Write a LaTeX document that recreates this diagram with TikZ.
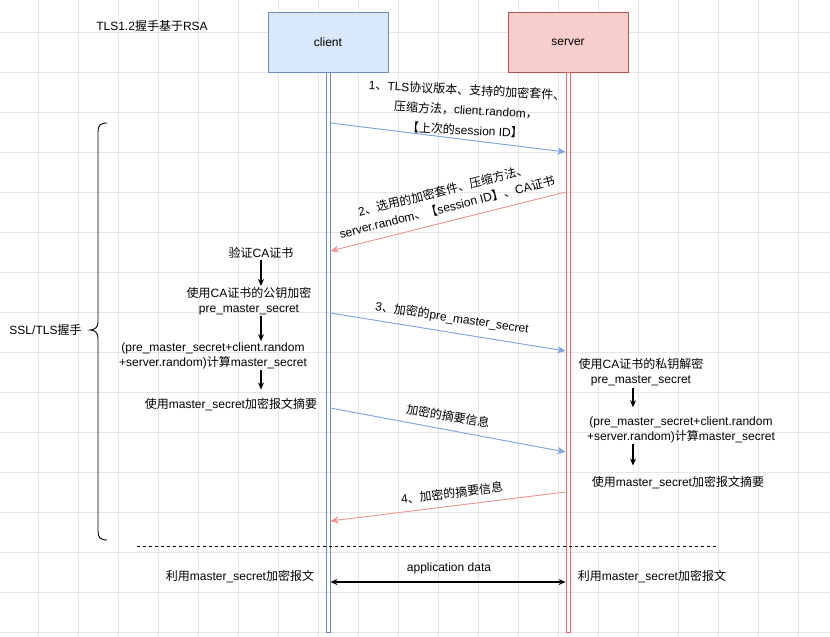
\documentclass[tikz,border=0pt]{standalone}
\usepackage{fontspec}
\setmainfont{Liberation Sans}
\newfontfamily\cjkfont{Noto Sans CJK SC}
\usetikzlibrary{arrows.meta, positioning}
\definecolor{gridGray}{RGB}{230, 230, 230}
\definecolor{clientFill}{RGB}{218, 232, 252}
\definecolor{clientLine}{RGB}{108, 142, 191}
\definecolor{serverFill}{RGB}{248, 206, 204}
\definecolor{serverLine}{RGB}{184, 84, 80}
\definecolor{serverLife}{RGB}{234, 107, 102}
\definecolor{toServer}{RGB}{126, 166, 224}
\definecolor{toClient}{RGB}{241, 150, 150}

% Chinese characters in Noto Sans CJK, the rest in Liberation Sans
\XeTeXinterchartokenstate=1
\newXeTeXintercharclass\cjkclass
\newcount\cjkcode
\def\setcjkrange#1#2{\cjkcode=#1 \loop\XeTeXcharclass\cjkcode=\cjkclass \advance\cjkcode by 1 \ifnum\cjkcode<#2 \repeat}
\setcjkrange{"3000}{"3040}
\setcjkrange{"4E00}{"A000}
\setcjkrange{"FF00}{"FFF0}
\XeTeXinterchartoks 0 \cjkclass = {\cjkfont}
\XeTeXinterchartoks 4095 \cjkclass = {\cjkfont}
\XeTeXinterchartoks \cjkclass 0 = {\rmfamily}
\XeTeXinterchartoks \cjkclass 4095 = {\rmfamily}

\begin{document}
\begin{tikzpicture}[
    x=1pt, y=-1pt,
    every node/.style={font=\fontsize{12}{15}\selectfont, inner sep=1pt},
    gridline/.style={draw=gridGray, line width=0.6pt},
    actor/.style={rectangle, minimum width=120, minimum height=60, line width=0.9pt},
    clientbox/.style={actor, draw=clientLine, fill=clientFill},
    serverbox/.style={actor, draw=serverLine, fill=serverFill},
    life/.style={rectangle, minimum width=4, minimum height=560, inner sep=0pt, line width=0.8pt},
    msgserver/.style={draw=toServer, line width=0.9pt, -{Stealth[length=8pt, width=7pt, inset=2pt]}, fill=toServer},
    msgclient/.style={draw=toClient, line width=0.9pt, -{Stealth[length=8pt, width=7pt, inset=2pt]}, fill=toClient},
    stepline/.style={draw=black, line width=1.3pt, -{Stealth[length=7pt, width=6pt]}},
    bracket/.style={draw=black, line width=0.9pt},
    sepline/.style={draw=black, line width=0.9pt, dash pattern=on 3pt off 3pt},
    datalink/.style={draw=black, line width=1.2pt, {Stealth[length=7pt, width=6pt]}-{Stealth[length=7pt, width=6pt]}}
]
    % Fundo e grade
    \fill[white] (0,0) rectangle (830,637);
    \useasboundingbox (0,0) rectangle (830,637);
    \foreach \gx in {38,78,...,798} \draw[gridline] (\gx,0) -- (\gx,637);
    \foreach \gy in {32,72,...,632} \draw[gridline] (0,\gy) -- (830,\gy);

    % Participantes
    \node (title) at (152,26) {TLS1.2握手基于RSA};
    \node[clientbox] (client) at (328,42) {client};
    \node[serverbox] (server) at (568,42) {server};
    \node[life, draw=clientLine, below=0pt of client] (clife) {};
    \node[life, draw=serverLife, below=0pt of server] (slife) {};

    % Mensagens do handshake
    \draw[msgserver] (clife.east |- 0,123) -- (slife.west |- 0,152);
    \node[align=center, rotate=-3, font=\fontsize{12}{20}\selectfont] (hello) at (466,110) {1、TLS协议版本、支持的加密套件、\\压缩方法，client.random，\\【上次的session ID】};
    \draw[msgclient] (slife.west |- 0,192) -- (clife.east |- 0,251);
    \node[align=center, rotate=14, font=\fontsize{12}{17}\selectfont] (reply) at (445,199) {2、选用的加密套件、压缩方法、\\server.random、【session ID】、CA证书};
    \draw[msgserver] (clife.east |- 0,313) -- (slife.west |- 0,351);
    \node[rotate=-8.5] (premaster) at (452,318) {3、加密的pre\_master\_secret};
    \draw[msgserver] (clife.east |- 0,408) -- (slife.west |- 0,452);
    \node[rotate=-10] (cdigest) at (448,416) {加密的摘要信息};
    \draw[msgclient] (slife.west |- 0,492) -- (clife.east |- 0,521);
    \node[rotate=7] (sdigest) at (452,493) {4、加密的摘要信息};

    % Passos do cliente
    \node (verify) at (261,253) {验证CA证书};
    \node[align=center] (encrypt) at (249,301) {使用CA证书的公钥加密\\pre\_master\_secret};
    \node[align=center] (compute) at (213,355.5) {(pre\_master\_secret+client.random\\+server.random)计算master\_secret};
    \node (digest) at (231,405) {使用master\_secret加密报文摘要};
    \draw[stepline] (verify.south) -- (verify.south |- encrypt.north);
    \draw[stepline] (encrypt.south -| verify) -- (verify |- compute.north);
    \draw[stepline, shorten >=8pt] (compute.south -| verify) -- (verify |- digest.north);

    % Passos do servidor
    \node[align=center] (decrypt) at (641,372.5) {使用CA证书的私钥解密\\pre\_master\_secret};
    \node[align=center] (compute2) at (681,429.5) {(pre\_master\_secret+client.random\\+server.random)计算master\_secret};
    \node (digest2) at (678,483) {使用master\_secret加密报文摘要};
    \draw[stepline, shorten >=8pt] (decrypt.south -| 633,0) -- (compute2.north -| 633,0);
    \draw[stepline, shorten >=10pt] (compute2.south -| 633,0) -- (digest2.north -| 633,0);

    % Fase de handshake
    \node (phase) at (45.5,330) {SSL/TLS握手};
    \draw[bracket] (107,123) .. controls (100,123) and (98,126) .. (98,132) -- (98,322)
        .. controls (98,327) and (95,330) .. (90,330)
        .. controls (95,330) and (98,333) .. (98,338) -- (98,531)
        .. controls (98,537) and (100,540) .. (107,540);

    % Dados da aplicacao
    \draw[sepline] (137,546) -- (718,546);
    \draw[datalink] (clife.east |- 0,582) -- (slife.west |- 0,582);
    \node (appdata) at (449,568) {application data};
    \node (sendc) at (240,577) {利用master\_secret加密报文};
    \node (sends) at (652,577) {利用master\_secret加密报文};
\end{tikzpicture}
\end{document}
